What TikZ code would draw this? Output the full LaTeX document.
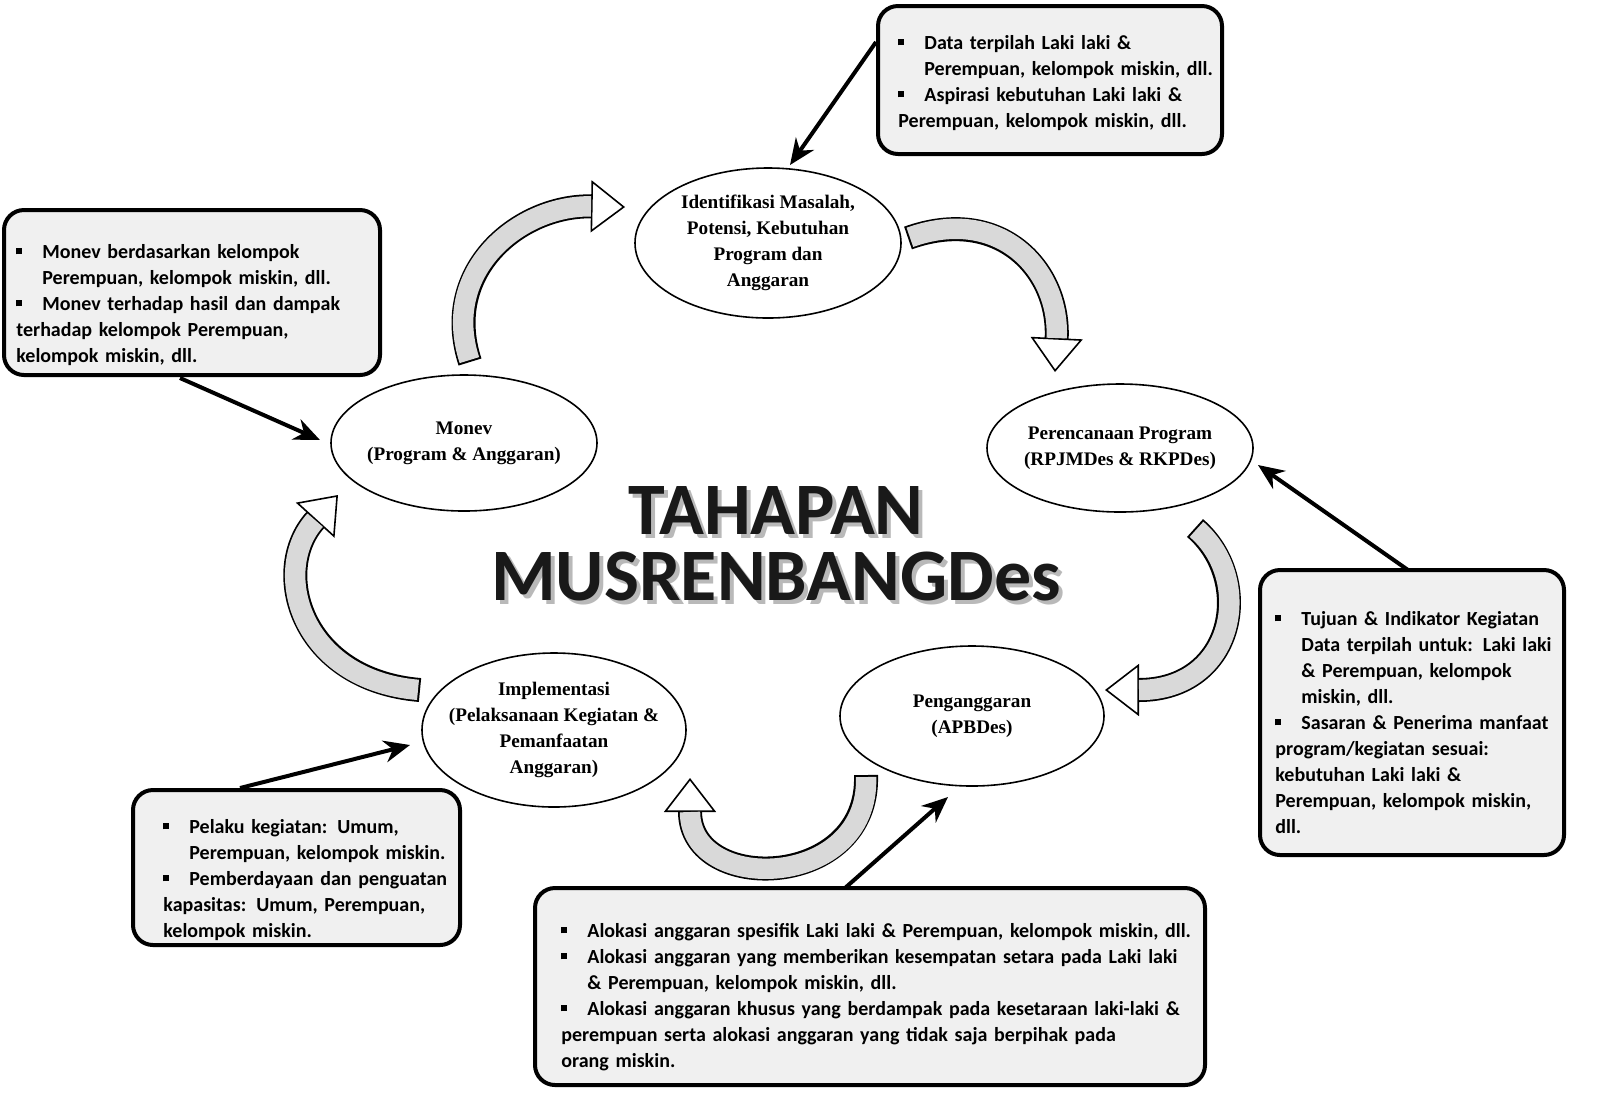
\documentclass[tikz,border=0pt]{standalone}
\usepackage{fontspec}
\setmainfont{Liberation Serif}
\newfontfamily\boxfont{Carlito}
\usetikzlibrary{arrows.meta,shapes.geometric}
\newcommand\bitem{\par\hangindent=1.3em\hangafter=1\noindent\makebox[1.3em][l]{\rule[0.2em]{0.3em}{0.3em}}\ignorespaces}
\newcommand\nl{\hfil\break}
\tikzset{
  stage/.style={ellipse,draw=black,line width=0.8pt,fill=white,minimum width=#1},
  stagetext/.style={font=\bfseries\fontsize{9.6}{13}\selectfont,align=center},
  infobox/.style={draw=black,line width=2pt,rounded corners=10pt,fill=gray!12},
  infotext/.style={anchor=north west,inner sep=0pt,text width=#1,font=\boxfont\bfseries\fontsize{10}{13}\selectfont},
  pointer/.style={line width=2pt,-{Stealth[length=13pt,width=11pt]}},
  bandout/.style={line width=12pt,black,-{Triangle[length=17pt,width=26pt,fill=white,line width=0.8pt]}},
  bandin/.style={line width=10.2pt,gray!30,shorten >=17pt,shorten <=1pt},
}
\newcommand\band[1]{\draw[bandout] #1; \draw[bandin] #1;}
\begin{document}
\begin{tikzpicture}[x=0.5pt,y=-0.5pt]
\fill[white] (0,0) rectangle (1600,1116);
% curved block arrows
\band{(470,362) .. controls (440,270) and (520,205) .. (625,207)}
\band{(908,238) .. controls (1000,205) and (1060,270) .. (1055,372)}
\band{(1195,528) .. controls (1255,580) and (1235,690) .. (1105,690)}
\band{(866,775) .. controls (870,890) and (690,895) .. (690,778)}
\band{(420,690) .. controls (300,680) and (270,570) .. (338,495)}
% ellipses
\node[stage=133pt,minimum height=75pt] (idn) at (768,243) {};
\node[stagetext] at (idn) {Identifikasi Masalah,\\Potensi, Kebutuhan\\Program dan\\Anggaran};
\node[stage=133pt,minimum height=64pt] (per) at (1120,448) {};
\node[stagetext] at (per) {Perencanaan Program\\(RPJMDes \& RKPDes)};
\node[stage=132pt,minimum height=70pt] (ang) at (972,716) {};
\node[stagetext] at (ang) {Penganggaran\\(APBDes)};
\node[stage=132pt,minimum height=77pt] (imp) at (554,730) {};
\node[stagetext] at (imp) {Implementasi\\(Pelaksanaan Kegiatan \&\\Pemanfaatan\\Anggaran)};
\node[stage=133pt,minimum height=68pt] (mon) at (464,443) {};
\node[stagetext] at (mon) {Monev\\(Program \& Anggaran)};
% title
\node[font=\boxfont\bfseries\fontsize{37}{33}\selectfont,gray!55,align=center] at (780,548) {TAHAPAN\\MUSRENBANGDes};
\node (title) [font=\boxfont\bfseries\fontsize{37}{33}\selectfont,black!90,align=center] at (776,544) {TAHAPAN\\MUSRENBANGDes};
% boxes
\draw[infobox] (878,6) rectangle (1222,154); \coordinate (bt) at (876,42);
\node[infotext=160pt] (tt) at (898,23) {\bitem Data terpilah Laki laki \&\nl Perempuan, kelompok miskin, dll.\bitem Aspirasi kebutuhan Laki laki \&\nl Perempuan, kelompok miskin, dll.};
\draw[infobox] (4,210) rectangle (380,375); \coordinate (bl) at (180,378);
\node[infotext=185pt] (lt) at (16,232) {\bitem Monev berdasarkan kelompok\nl Perempuan, kelompok miskin, dll.\bitem Monev terhadap hasil dan dampak\nl terhadap kelompok Perempuan,\nl kelompok miskin, dll.};
\draw[infobox] (1260,570) rectangle (1564,855); \coordinate (br) at (1408,570);
\node[infotext=145pt] (rt) at (1275,599) {\bitem Tujuan \& Indikator Kegiatan\nl Data terpilah untuk: Laki laki\nl \& Perempuan, kelompok\nl miskin, dll.\bitem Sasaran \& Penerima manfaat\nl program/kegiatan sesuai:\nl kebutuhan Laki laki \&\nl Perempuan, kelompok miskin,\nl dll.};
\draw[infobox] (133,790) rectangle (460,945); \coordinate (bbl) at (240,788);
\node[infotext=150pt] (blt) at (163,807) {\bitem Pelaku kegiatan: Umum,\nl Perempuan, kelompok miskin.\bitem Pemberdayaan dan penguatan\nl kapasitas: Umum, Perempuan,\nl kelompok miskin.};
\draw[infobox] (535,888) rectangle (1205,1085); \coordinate (bb) at (845,888);
\node[infotext=320pt] (bt2) at (561,911) {\bitem Alokasi anggaran spesifik Laki laki \& Perempuan, kelompok miskin, dll.\bitem Alokasi anggaran yang memberikan kesempatan setara pada Laki laki\nl \& Perempuan, kelompok miskin, dll.\bitem Alokasi anggaran khusus yang berdampak pada kesetaraan laki-laki \&\nl perempuan serta alokasi anggaran yang tidak saja berpihak pada\nl orang miskin.};
% pointers
\draw[pointer] (bt) -- (790,165);
\draw[pointer] (bl) -- (320,440);
\draw[pointer] (br) -- (1258,465);
\draw[pointer] (bbl) -- (410,745);
\draw[pointer] (bb) -- (948,797);
\pgfresetboundingbox
\useasboundingbox (0,0) rectangle (1600,1116);
\end{tikzpicture}
\end{document}
